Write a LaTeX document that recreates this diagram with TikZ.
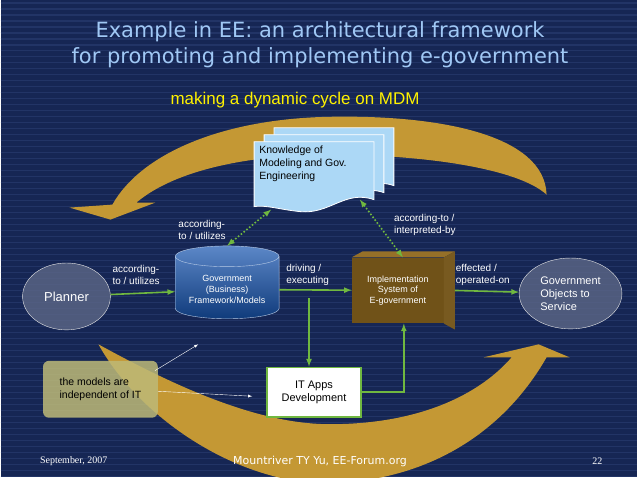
\documentclass[tikz,border=0pt]{standalone}
\usepackage{fontspec}
\setmainfont{Liberation Sans}
\newfontfamily\titlefont{DejaVu Sans}
\newfontfamily\serifdate{Liberation Serif}
\usetikzlibrary{shapes.geometric,positioning}
\definecolor{bgnavy}{RGB}{22,38,84}
\definecolor{stripe}{RGB}{34,52,102}
\definecolor{titleblue}{RGB}{160,200,245}
\definecolor{cyclegold}{RGB}{196,152,52}
\definecolor{flowgreen}{RGB}{112,184,64}
\definecolor{docblue}{RGB}{172,216,246}
\definecolor{cylblue}{RGB}{22,84,176}
\definecolor{implbrown}{RGB}{112,82,24}
\definecolor{implside}{RGB}{150,112,40}
\definecolor{notekhaki}{RGB}{190,186,120}
\tikzset{
  flow/.style={draw=flowgreen, line width=1.6pt, -latex},
  link/.style={draw=flowgreen, line width=1.6pt, dotted, latex-latex},
  actor/.style={ellipse, draw=white!80!gray, fill=white!30!bgnavy, fill opacity=0.8, text opacity=1, text=white, minimum width=88pt, minimum height=67pt},
  lbl/.style={text=white, font=\fontsize{10}{12}\selectfont, align=left, inner sep=0pt}
}
\begin{document}
\begin{tikzpicture}[x=1pt, y=-1pt]
  % background
  \fill[bgnavy] (0,0) rectangle (638,478);
  \foreach \ys in {3,9,...,478} {
    \draw[stripe, line width=1.2pt] (0,\ys) -- (638,\ys);
  }
  \useasboundingbox (0,0) rectangle (638,478);

  % title
  \node[text=titleblue, font=\titlefont\fontsize{21}{26}\selectfont, align=center] (title) at (320,45)
    {Example in EE: an architectural framework\\for promoting and implementing e-government};
  \node[text=yellow, font=\fontsize{17}{20}\selectfont] (subtitle) at (295,100) {making a dynamic cycle on MDM};

  % cycle arrows
  \fill[cyclegold] (547,195) .. controls (545,135) and (440,115) .. (330,117)
    .. controls (220,119) and (140,155) .. (112,205) -- (69,208) -- (110,220) -- (155,203) -- (136,203)
    .. controls (175,170) and (250,155) .. (330,155) .. controls (430,155) and (520,170) .. (547,195) -- cycle;
  \fill[cyclegold] (98,345) .. controls (180,390) and (260,425) .. (330,425)
    .. controls (420,425) and (480,395) .. (512,358) -- (484,358) -- (539,345) -- (570,358) -- (547,358)
    .. controls (500,440) and (420,482) .. (330,484) .. controls (240,486) and (140,420) .. (98,345) -- cycle;

  % knowledge documents
  \foreach \dx/\dy in {20/-14,10/-7,0/0} {
    \filldraw[fill=docblue, draw=white, line width=0.8pt, shift={(\dx,\dy)}]
      (254,142) -- (374,142) -- (374,200) .. controls (345,190) and (330,215) .. (300,212)
      .. controls (280,210) and (265,205) .. (254,207) -- cycle;
  }
  \node[anchor=north west, align=left, font=\fontsize{10.5}{13}\selectfont, inner sep=0pt] (know) at (259,146)
    {Knowledge of\\Modeling and Gov.\\Engineering};
  \coordinate (knowL) at (271,210);
  \coordinate (knowR) at (360,200);

  % nodes
  \node[actor, font=\fontsize{13}{15}\selectfont] (planner) at (66,297) {Planner};
  \node[actor, minimum width=103pt, minimum height=71pt, align=left, font=\fontsize{11}{13}\selectfont] (objects) at (571,294)
    {Government\\Objects to\\Service};
  \node[cylinder, shape border rotate=90, aspect=0.25, draw=white!70!cylblue, top color=cylblue!70!white, bottom color=cylblue!70!black,
        minimum width=104pt, minimum height=73pt, text=white, align=center, font=\fontsize{9}{11}\selectfont] (models) at (227,290)
    {Government\\(Business)\\Framework/Models};
  \node[fill=implbrown, minimum width=92pt, minimum height=66pt, text=white, align=center, font=\fontsize{9}{10.5}\selectfont] (impl) at (398,291)
    {Implementation\\System of\\E-government};
  \fill[implside] (impl.north west) -- ++(11,-6) -- ([xshift=11pt,yshift=6pt]impl.north east) -- (impl.north east) -- cycle;
  \fill[implside!80!black] (impl.north east) -- ++(11,-6) -- ([xshift=11pt,yshift=-6pt]impl.south east) -- (impl.south east) -- cycle;
  \node[draw=flowgreen, line width=1.6pt, fill=white, minimum width=94pt, minimum height=50pt, align=center, font=\fontsize{11}{13}\selectfont] (itapps) at (314,393)
    {IT Apps\\Development};
  \node[fill=notekhaki, fill opacity=0.85, text opacity=1, rounded corners=6pt, minimum width=115pt, minimum height=57pt, align=left, font=\fontsize{10.5}{13}\selectfont] (note) at (100,390)
    {the models are\\independent of IT};

  % connectors
  \draw[flow] (planner) -- (models);
  \draw[flow] (models) -- (impl);
  \draw[flow] ([xshift=11pt]impl.east) -- (objects);
  \draw[flow] (309,299) -- (itapps.north -| 309,0);
  \draw[flow] (itapps.east) -| (impl.south -| 404,0);
  \draw[link] (models.north) -- (knowL);
  \draw[link] (knowR) -- ([xshift=5pt]impl.north);
  \draw[white, -latex, thin] (note.north east) ++(-3,10) -- (198,345);
  \draw[white, -latex, thin] ([yshift=-2pt]note.east) -- (252,397);

  % labels
  \node[lbl, anchor=west] (lblA) at (178,230) {according-\\to / utilizes};
  \node[lbl, anchor=west] (lblB) at (112,275) {according-\\to / utilizes};
  \node[lbl, anchor=west] (lblC) at (286,275) {driving /\\executing};
  \node[lbl, anchor=west] (lblD) at (394,225) {according-to /\\interpreted-by};
  \node[lbl, anchor=west] (lblE) at (456,275) {effected /\\operated-on};

  % footer
  \node[text=white, font=\serifdate\fontsize{10}{12}\selectfont, anchor=west] (date) at (36,462) {September, 2007};
  \node[text=white, font=\titlefont\fontsize{11}{13}\selectfont] (author) at (320,462) {Mountriver TY Yu, EE-Forum.org};
  \node[text=white, font=\serifdate\fontsize{10}{12}\selectfont] (page) at (598,462) {22};
\end{tikzpicture}
\end{document}
